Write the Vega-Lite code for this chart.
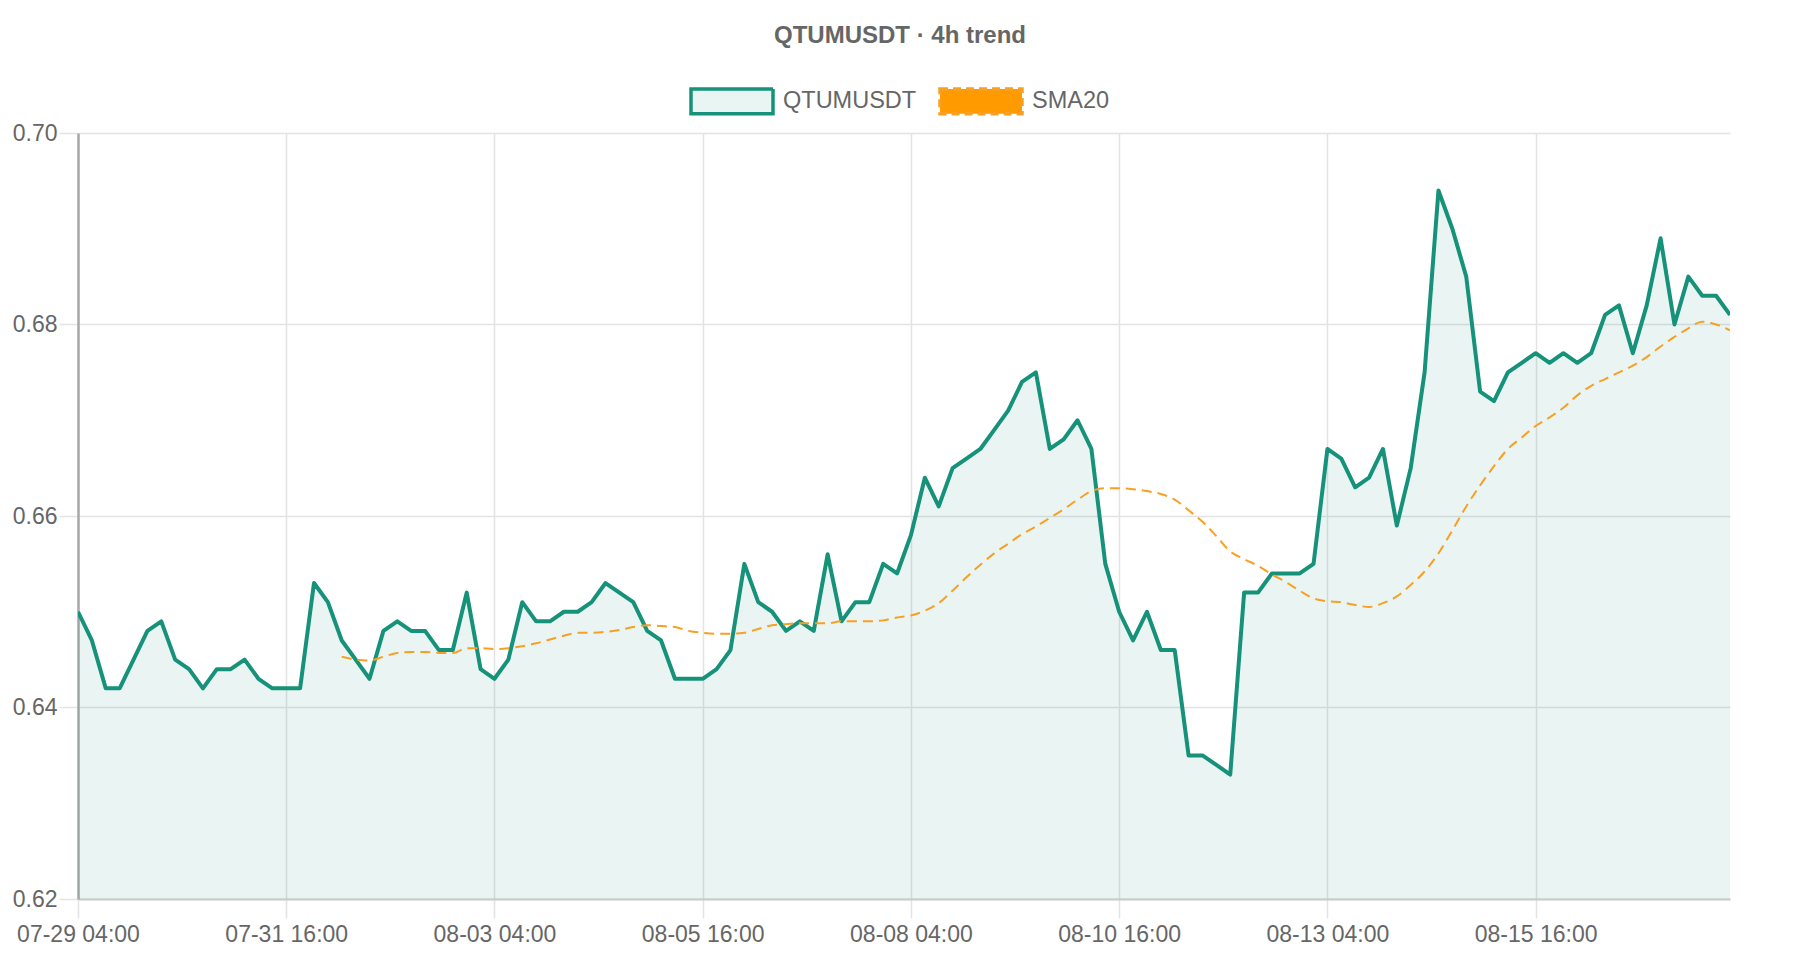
{
  "$schema": "https://vega.github.io/schema/vega-lite/v6.json",
  "autosize": {"type": "none"},
  "width": 1652,
  "height": 766,
  "padding": {"left": 78, "top": 133, "right": 70, "bottom": 61},
  "background": "white",
  "title": {"text": "QTUMUSDT · 4h trend", "font": "Liberation Sans", "fontSize": 24, "fontWeight": "bold", "color": "#666666", "anchor": "middle", "frame": "group", "offset": 10, "dx": -4},
  "config": {
    "view": {"stroke": null},
    "axis": {"labelFont": "Liberation Sans", "labelFontSize": 23, "labelColor": "#666666", "gridColor": "#e3e3e3", "gridWidth": 1.5, "tickColor": "#e3e3e3", "tickWidth": 1.5, "tickSize": 19, "domainColor": "#cccccc", "domainWidth": 2, "title": null}
  },
  "data": {"values": [
    {"t": "07-29 04:00", "price": 0.650, "sma": null},
    {"t": "07-29 08:00", "price": 0.647, "sma": null},
    {"t": "07-29 12:00", "price": 0.642, "sma": null},
    {"t": "07-29 16:00", "price": 0.642, "sma": null},
    {"t": "07-29 20:00", "price": 0.645, "sma": null},
    {"t": "07-30 00:00", "price": 0.648, "sma": null},
    {"t": "07-30 04:00", "price": 0.649, "sma": null},
    {"t": "07-30 08:00", "price": 0.645, "sma": null},
    {"t": "07-30 12:00", "price": 0.644, "sma": null},
    {"t": "07-30 16:00", "price": 0.642, "sma": null},
    {"t": "07-30 20:00", "price": 0.644, "sma": null},
    {"t": "07-31 00:00", "price": 0.644, "sma": null},
    {"t": "07-31 04:00", "price": 0.645, "sma": null},
    {"t": "07-31 08:00", "price": 0.643, "sma": null},
    {"t": "07-31 12:00", "price": 0.642, "sma": null},
    {"t": "07-31 16:00", "price": 0.642, "sma": null},
    {"t": "07-31 20:00", "price": 0.642, "sma": null},
    {"t": "08-01 00:00", "price": 0.653, "sma": null},
    {"t": "08-01 04:00", "price": 0.651, "sma": null},
    {"t": "08-01 08:00", "price": 0.647, "sma": 0.6453},
    {"t": "08-01 12:00", "price": 0.645, "sma": 0.6450},
    {"t": "08-01 16:00", "price": 0.643, "sma": 0.6449},
    {"t": "08-01 20:00", "price": 0.648, "sma": 0.6453},
    {"t": "08-02 00:00", "price": 0.649, "sma": 0.6457},
    {"t": "08-02 04:00", "price": 0.648, "sma": 0.6458},
    {"t": "08-02 08:00", "price": 0.648, "sma": 0.6458},
    {"t": "08-02 12:00", "price": 0.646, "sma": 0.6457},
    {"t": "08-02 16:00", "price": 0.646, "sma": 0.6457},
    {"t": "08-02 20:00", "price": 0.652, "sma": 0.6462},
    {"t": "08-03 00:00", "price": 0.644, "sma": 0.6462},
    {"t": "08-03 04:00", "price": 0.643, "sma": 0.6461},
    {"t": "08-03 08:00", "price": 0.645, "sma": 0.6462},
    {"t": "08-03 12:00", "price": 0.651, "sma": 0.6464},
    {"t": "08-03 16:00", "price": 0.649, "sma": 0.6467},
    {"t": "08-03 20:00", "price": 0.649, "sma": 0.6471},
    {"t": "08-04 00:00", "price": 0.650, "sma": 0.6475},
    {"t": "08-04 04:00", "price": 0.650, "sma": 0.6478},
    {"t": "08-04 08:00", "price": 0.651, "sma": 0.6478},
    {"t": "08-04 12:00", "price": 0.653, "sma": 0.6479},
    {"t": "08-04 16:00", "price": 0.652, "sma": 0.6481},
    {"t": "08-04 20:00", "price": 0.651, "sma": 0.6484},
    {"t": "08-05 00:00", "price": 0.648, "sma": 0.6486},
    {"t": "08-05 04:00", "price": 0.647, "sma": 0.6485},
    {"t": "08-05 08:00", "price": 0.643, "sma": 0.6484},
    {"t": "08-05 12:00", "price": 0.643, "sma": 0.6480},
    {"t": "08-05 16:00", "price": 0.643, "sma": 0.6478},
    {"t": "08-05 20:00", "price": 0.644, "sma": 0.6477},
    {"t": "08-06 00:00", "price": 0.646, "sma": 0.6477},
    {"t": "08-06 04:00", "price": 0.655, "sma": 0.6478},
    {"t": "08-06 08:00", "price": 0.651, "sma": 0.6482},
    {"t": "08-06 12:00", "price": 0.650, "sma": 0.6486},
    {"t": "08-06 16:00", "price": 0.648, "sma": 0.6487},
    {"t": "08-06 20:00", "price": 0.649, "sma": 0.6488},
    {"t": "08-07 00:00", "price": 0.648, "sma": 0.6488},
    {"t": "08-07 04:00", "price": 0.656, "sma": 0.6488},
    {"t": "08-07 08:00", "price": 0.649, "sma": 0.6490},
    {"t": "08-07 12:00", "price": 0.651, "sma": 0.6490},
    {"t": "08-07 16:00", "price": 0.651, "sma": 0.6490},
    {"t": "08-07 20:00", "price": 0.655, "sma": 0.6491},
    {"t": "08-08 00:00", "price": 0.654, "sma": 0.6494},
    {"t": "08-08 04:00", "price": 0.658, "sma": 0.6496},
    {"t": "08-08 08:00", "price": 0.664, "sma": 0.6501},
    {"t": "08-08 12:00", "price": 0.661, "sma": 0.6509},
    {"t": "08-08 16:00", "price": 0.665, "sma": 0.6522},
    {"t": "08-08 20:00", "price": 0.666, "sma": 0.6536},
    {"t": "08-09 00:00", "price": 0.667, "sma": 0.6549},
    {"t": "08-09 04:00", "price": 0.669, "sma": 0.6561},
    {"t": "08-09 08:00", "price": 0.671, "sma": 0.6571},
    {"t": "08-09 12:00", "price": 0.674, "sma": 0.6581},
    {"t": "08-09 16:00", "price": 0.675, "sma": 0.6589},
    {"t": "08-09 20:00", "price": 0.667, "sma": 0.6598},
    {"t": "08-10 00:00", "price": 0.668, "sma": 0.6607},
    {"t": "08-10 04:00", "price": 0.670, "sma": 0.6617},
    {"t": "08-10 08:00", "price": 0.667, "sma": 0.6626},
    {"t": "08-10 12:00", "price": 0.655, "sma": 0.6629},
    {"t": "08-10 16:00", "price": 0.650, "sma": 0.6629},
    {"t": "08-10 20:00", "price": 0.647, "sma": 0.6628},
    {"t": "08-11 00:00", "price": 0.650, "sma": 0.6626},
    {"t": "08-11 04:00", "price": 0.646, "sma": 0.6623},
    {"t": "08-11 08:00", "price": 0.646, "sma": 0.6617},
    {"t": "08-11 12:00", "price": 0.635, "sma": 0.6606},
    {"t": "08-11 16:00", "price": 0.635, "sma": 0.6594},
    {"t": "08-11 20:00", "price": 0.634, "sma": 0.6579},
    {"t": "08-12 00:00", "price": 0.633, "sma": 0.6563},
    {"t": "08-12 04:00", "price": 0.652, "sma": 0.6555},
    {"t": "08-12 08:00", "price": 0.652, "sma": 0.6548},
    {"t": "08-12 12:00", "price": 0.654, "sma": 0.6539},
    {"t": "08-12 16:00", "price": 0.654, "sma": 0.6531},
    {"t": "08-12 20:00", "price": 0.654, "sma": 0.6522},
    {"t": "08-13 00:00", "price": 0.655, "sma": 0.6514},
    {"t": "08-13 04:00", "price": 0.667, "sma": 0.6511},
    {"t": "08-13 08:00", "price": 0.666, "sma": 0.6510},
    {"t": "08-13 12:00", "price": 0.663, "sma": 0.6507},
    {"t": "08-13 16:00", "price": 0.664, "sma": 0.6505},
    {"t": "08-13 20:00", "price": 0.667, "sma": 0.6509},
    {"t": "08-14 00:00", "price": 0.659, "sma": 0.6516},
    {"t": "08-14 04:00", "price": 0.665, "sma": 0.6528},
    {"t": "08-14 08:00", "price": 0.675, "sma": 0.6542},
    {"t": "08-14 12:00", "price": 0.694, "sma": 0.6561},
    {"t": "08-14 16:00", "price": 0.690, "sma": 0.6585},
    {"t": "08-14 20:00", "price": 0.685, "sma": 0.6610},
    {"t": "08-15 00:00", "price": 0.673, "sma": 0.6632},
    {"t": "08-15 04:00", "price": 0.672, "sma": 0.6652},
    {"t": "08-15 08:00", "price": 0.675, "sma": 0.6670},
    {"t": "08-15 12:00", "price": 0.676, "sma": 0.6682},
    {"t": "08-15 16:00", "price": 0.677, "sma": 0.6694},
    {"t": "08-15 20:00", "price": 0.676, "sma": 0.6703},
    {"t": "08-16 00:00", "price": 0.677, "sma": 0.6713},
    {"t": "08-16 04:00", "price": 0.676, "sma": 0.6726},
    {"t": "08-16 08:00", "price": 0.677, "sma": 0.6736},
    {"t": "08-16 12:00", "price": 0.681, "sma": 0.6743},
    {"t": "08-16 16:00", "price": 0.682, "sma": 0.6750},
    {"t": "08-16 20:00", "price": 0.677, "sma": 0.6757},
    {"t": "08-17 00:00", "price": 0.682, "sma": 0.6766},
    {"t": "08-17 04:00", "price": 0.689, "sma": 0.6777},
    {"t": "08-17 08:00", "price": 0.680, "sma": 0.6787},
    {"t": "08-17 12:00", "price": 0.685, "sma": 0.6796},
    {"t": "08-17 16:00", "price": 0.683, "sma": 0.6803},
    {"t": "08-17 20:00", "price": 0.683, "sma": 0.6800},
    {"t": "08-18 00:00", "price": 0.681, "sma": 0.6794}
  ]},
  "encoding": {
    "x": {"field": "t", "type": "ordinal", "sort": null,
      "scale": {"type": "point", "padding": 0},
      "axis": {"values": ["07-29 04:00", "07-31 16:00", "08-03 04:00", "08-05 16:00", "08-08 04:00", "08-10 16:00", "08-13 04:00", "08-15 16:00"], "labelAngle": 0, "grid": true, "labelPadding": 5.5, "domainColor": "#cccccc"}}
  },
  "layer": [
    {
      "mark": {"type": "area", "color": "#17927a", "fillOpacity": 0.09, "clip": true},
      "encoding": {
        "y": {"field": "price", "type": "quantitative",
          "scale": {"domain": [0.62, 0.70], "zero": false, "nice": false},
          "axis": {"values": [0.62, 0.64, 0.66, 0.68, 0.70], "format": ".2f", "labelPadding": 2, "domainColor": "#a9a9a9", "domainWidth": 2.5}}
      }
    },
    {
      "mark": {"type": "line", "strokeWidth": 4, "strokeJoin": "round", "clip": true},
      "encoding": {
        "y": {"field": "price", "type": "quantitative"},
        "color": {"datum": "QTUMUSDT", "type": "nominal",
          "scale": {"domain": ["QTUMUSDT", "SMA20"], "range": ["#17927a", "#f7a023"]},
          "legend": {"orient": "none", "legendX": 611, "legendY": -75, "direction": "horizontal", "title": null,
            "symbolType": "M-1,-0.3H1V0.3H-1Z", "symbolSize": 6724, "symbolStrokeWidth": 3.5,
            "labelFont": "Liberation Sans", "labelFontSize": 23.5, "labelColor": "#666666", "labelOffset": 8, "columnPadding": 16,
            "encode": {"symbols": {"update": {
              "fill": [{"test": "datum.value === 'SMA20'", "value": "#ff9a00"}, {"value": "#e9f5f2"}],
              "stroke": [{"test": "datum.value === 'SMA20'", "value": "#ff9a00"}, {"value": "#17927a"}],
              "strokeDash": [{"test": "datum.value === 'SMA20'", "value": [8, 5]}, {"value": [1, 0]}],
              "strokeWidth": {"value": 3.5},
              "opacity": {"value": 1},
              "fillOpacity": {"value": 1}
            }}}}
        }
      }
    },
    {
      "transform": [{"filter": "datum.sma != null"}],
      "mark": {"type": "line", "strokeWidth": 2, "strokeDash": [10, 6], "interpolate": "monotone", "clip": true},
      "encoding": {
        "y": {"field": "sma", "type": "quantitative"},
        "color": {"datum": "SMA20", "type": "nominal"}
      }
    }
  ]
}
